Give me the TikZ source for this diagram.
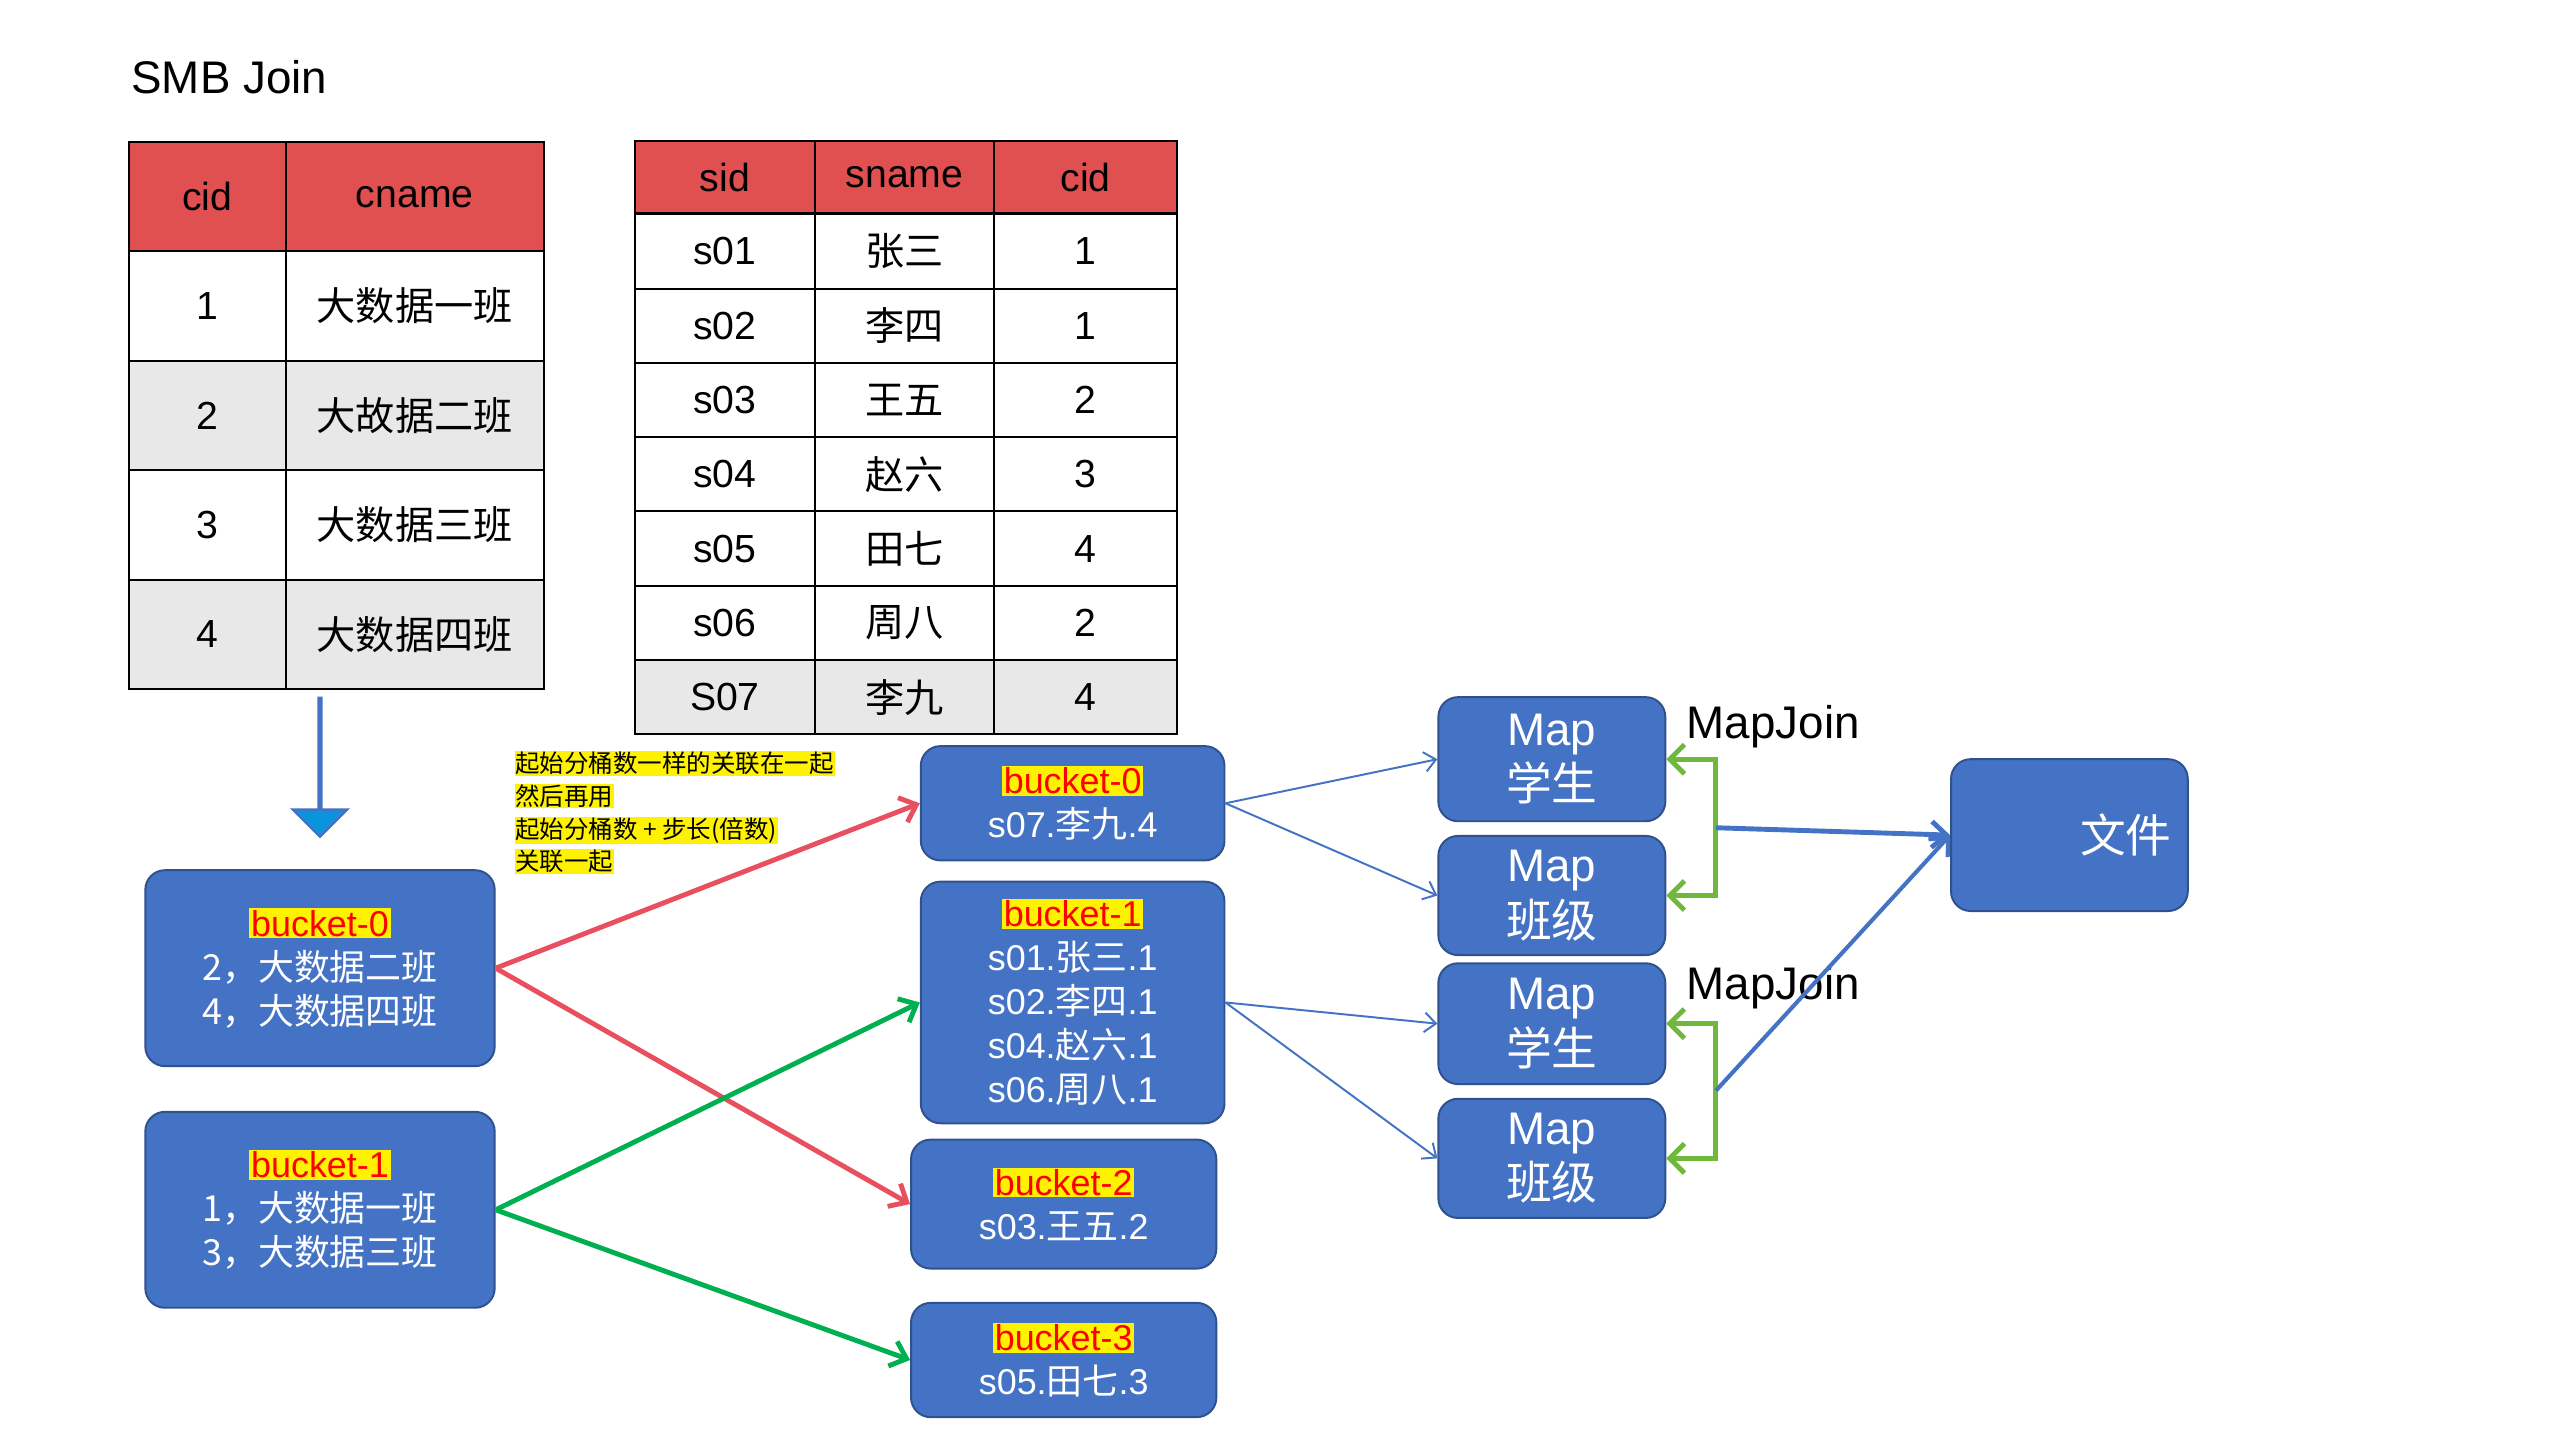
\documentclass[tikz,border=0pt]{standalone}
\usepackage{fontspec}
\setmainfont{Liberation Sans}
\newfontfamily\cjk{Noto Sans CJK SC}
\usetikzlibrary{arrows.meta,shapes.arrows}
\definecolor{hdred}{RGB}{224,80,80}
\definecolor{boxblue}{RGB}{68,114,196}
\definecolor{boxline}{RGB}{47,82,143}
\definecolor{rowgrey}{RGB}{232,232,232}
\definecolor{jgreen}{RGB}{0,176,80}
\definecolor{lgreen}{RGB}{112,184,60}
\definecolor{jred}{RGB}{232,80,96}
\newcommand{\hl}[1]{{\setlength{\fboxsep}{1pt}\colorbox{yellow}{\textcolor{red}{#1}}}}
\newcommand{\nt}[1]{{\setlength{\fboxsep}{0.5pt}\colorbox{yellow}{#1}}}
\tikzset{
  cell/.style={draw=black,line width=1.2pt,inner sep=0pt,font=\fontsize{24}{28}\selectfont},
  bucket/.style={draw=boxline,line width=1.2pt,fill=boxblue,rounded corners=12pt,text=white,
    align=center,inner sep=0pt,font=\fontsize{22}{27}\selectfont},
  mapbox/.style={bucket,font=\fontsize{28}{34}\selectfont},
  thick/.style={line width=3pt,-{Straight Barb[length=9pt,width=16pt]}},
  thin/.style={draw=boxblue,line width=1.2pt,-{Straight Barb[length=7pt,width=12pt]}}
}
\begin{document}
\begin{tikzpicture}[x=1pt,y=-1pt]
\useasboundingbox (0,0) rectangle (1568,880);

% title
\node[anchor=west,font=\fontsize{28}{32}\selectfont] (title) at (77,47) {SMB Join};

% class table
\node[cell,fill=hdred,minimum width=96pt,minimum height=67pt] (ch1) at (127,120.5) {cid};
\node[cell,fill=hdred,minimum width=158pt,minimum height=67pt] (ch2) at (254,120.5) {cname};
\foreach \i/\id/\nm/\bg in {1/1/大数据一班/white,2/2/大故据二班/rowgrey,3/3/大数据三班/white,4/4/大数据四班/rowgrey}{
  \node[cell,fill=\bg,minimum width=96pt,minimum height=67pt] (c\i a) at (127,120.5+67*\i) {\id};
  \node[cell,fill=\bg,minimum width=158pt,minimum height=67pt] (c\i b) at (254,120.5+67*\i) {\cjk\nm};
}

% student table
\node[cell,fill=hdred,minimum width=110pt,minimum height=44pt] (sh1) at (444,108.5) {sid};
\node[cell,fill=hdred,minimum width=110pt,minimum height=44pt] (sh2) at (554,108.5) {sname};
\node[cell,fill=hdred,minimum width=112pt,minimum height=44pt] (sh3) at (665,108.5) {cid};
\foreach \i/\sid/\nm/\cid/\bg in {1/s01/张三/1/white,2/s02/李四/1/white,3/s03/王五/2/white,
    4/s04/赵六/3/white,5/s05/田七/4/white,6/s06/周八/2/white,7/S07/李九/4/rowgrey}{
  \node[cell,fill=\bg,minimum width=110pt,minimum height=45.5pt] (s\i a) at (444,108.5+45.5*\i) {\sid};
  \node[cell,fill=\bg,minimum width=110pt,minimum height=45.5pt] (s\i b) at (554,108.5+45.5*\i) {\cjk\nm};
  \node[cell,fill=\bg,minimum width=112pt,minimum height=45.5pt] (s\i c) at (665,108.5+45.5*\i) {\cid};
}

% down arrow
\node[single arrow,shape border rotate=270,draw=boxblue,line width=1.5pt,fill=cyan!80!blue,
  minimum width=33pt,single arrow head extend=15pt,single arrow head indent=0pt,
  minimum height=85pt,inner sep=0pt] (down) at (196,469.5) {};

% note
\node[anchor=north west,align=left,inner sep=0pt,font=\cjk\fontsize{15}{20}\selectfont] (note) at (315,460)
  {\nt{起始分桶数一样的关联在一起}\\\nt{然后再用}\\\nt{起始分桶数 + 步长(倍数)}\\\nt{关联一起}};

% class buckets
\node[bucket,minimum width=214pt,minimum height=120pt] (cb0) at (196,593)
  {\hl{bucket-0}\\{\cjk 2，大数据二班}\\{\cjk 4，大数据四班}};
\node[bucket,minimum width=214pt,minimum height=120pt] (cb1) at (196,741)
  {\hl{bucket-1}\\{\cjk 1，大数据一班}\\{\cjk 3，大数据三班}};

% student buckets
\node[bucket,minimum width=186pt,minimum height=70pt] (sb0) at (657,492) {\hl{bucket-0}\\s07.{\cjk 李九}.4};
\node[bucket,minimum width=186pt,minimum height=148pt] (sb1) at (657,614)
  {\hl{bucket-1}\\s01.{\cjk 张三}.1\\s02.{\cjk 李四}.1\\s04.{\cjk 赵六}.1\\s06.{\cjk 周八}.1};
\node[bucket,minimum width=187pt,minimum height=79pt] (sb2) at (651.5,737.5) {\hl{bucket-2}\\s03.{\cjk 王五}.2};
\node[bucket,minimum width=187pt,minimum height=70pt] (sb3) at (651.5,833) {\hl{bucket-3}\\s05.{\cjk 田七}.3};

% map tasks
\node[mapbox,minimum width=139pt,minimum height=76pt] (m1) at (950.5,465) {Map\\{\cjk 学生}};
\node[mapbox,minimum width=139pt,minimum height=73pt] (m2) at (950.5,548.5) {Map\\{\cjk 班级}};
\node[mapbox,minimum width=139pt,minimum height=74pt] (m3) at (950.5,627) {Map\\{\cjk 学生}};
\node[mapbox,minimum width=139pt,minimum height=73pt] (m4) at (950.5,709.5) {Map\\{\cjk 班级}};
\node[mapbox,minimum width=145pt,minimum height=93pt,text width=125pt,align=right] (file) at (1267.5,511.5) {\cjk 文件};

\node[anchor=west,font=\fontsize{28}{32}\selectfont,inner sep=0pt] (mj1) at (1033,445) {MapJoin};
\node[anchor=west,font=\fontsize{28}{32}\selectfont,inner sep=0pt] (mj2) at (1033,605) {MapJoin};

% bucket joins
\draw[thick,draw=jred] (cb0.east) -- (sb0.west);
\draw[thick,draw=jred] (cb0.east) -- (sb2.west);
\draw[thick,draw=jgreen] (cb1.east) -- (sb1.west);
\draw[thick,draw=jgreen] (cb1.east) -- (sb3.west);

\draw[thin] (sb0.east) -- (m1.west);
\draw[thin] (sb0.east) -- (m2.west);
\draw[thin] (sb1.east) -- (m3.west);
\draw[thin] (sb1.east) -- (m4.west);

% map join brackets
\coordinate (j1) at (1051,507);
\coordinate (j2) at (1051,668);
\draw[draw=lgreen,line width=3pt,{Straight Barb[length=9pt,width=18pt]}-{Straight Barb[length=9pt,width=18pt]}]
  (m1.east) -| (j1) |- (m2.east);
\draw[draw=lgreen,line width=3pt,{Straight Barb[length=9pt,width=18pt]}-{Straight Barb[length=9pt,width=18pt]}]
  (m3.east) -| (j2) |- (m4.east);
\draw[thick,draw=boxblue] (j1) -- (file.west);
\draw[thick,draw=boxblue,line width=2.5pt] (j2) -- (file.west);
\end{tikzpicture}
\end{document}
